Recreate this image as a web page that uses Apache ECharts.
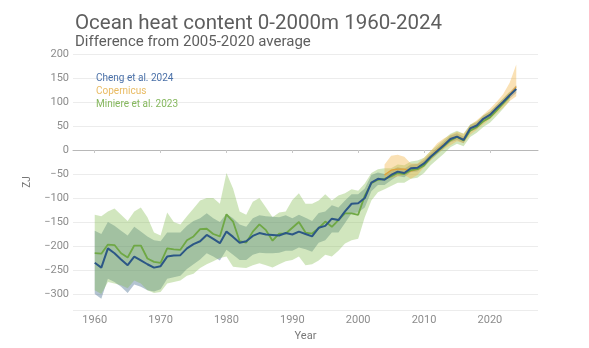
<!DOCTYPE html>
<html>
<head>
<meta charset="utf-8">
<script src="https://cdn.jsdelivr.net/npm/echarts@6/dist/echarts.min.js"></script>
<style>html,body{margin:0;padding:0;background:#fff}#c{width:589px;height:348px}</style>
</head>
<body>
<div id="c"></div>
<script>
const years = [];
for (let y = 1960; y <= 2024; y++) years.push(y);

const chengVals = [-235,-245,-205,-215,-228,-240,-222,-230,-238,-245,
  -242,-222,-220,-219,-205,-196,-190,-177,-185,-194,
  -170,-181,-193,-190,-179,-173,-176,-177,-178,-173,
  -176,-170,-175,-180,-162,-158,-143,-146,-128,-112,
  -111,-100,-68,-60,-62,-52,-45,-48,-38,-37,
  -28,-14,-2,10,23,28,21,45,51,65,
  73,87,100,114,127];
const chengLow = [-300,-310,-268,-275,-285,-298,-280,-285,-292,-295,
  -290,-268,-265,-262,-248,-238,-228,-215,-222,-230,
  -208,-218,-229,-229,-218,-214,-215,-215,-214,-210,
  -210,-203,-207,-212,-193,-188,-172,-172,-152,-132,
  -130,-120,-86,-73,-73,-63,-54,-57,-46,-45,
  -35,-21,-9,3,16,21,14,38,44,58,
  66,80,93,107,119];
const chengHigh = [-168,-175,-150,-158,-168,-178,-160,-170,-180,-188,
  -190,-172,-172,-172,-158,-148,-142,-132,-142,-150,
  -133,-142,-155,-160,-142,-136,-138,-139,-140,-136,
  -142,-135,-141,-148,-131,-128,-115,-120,-105,-92,
  -92,-80,-52,-47,-50,-42,-36,-39,-30,-29,
  -21,-7,5,17,30,35,28,52,58,72,
  80,94,107,121,135];

const miniereYears = years.slice(0, 64);
const miniereVals = [-215,-216,-197,-198,-215,-224,-199,-199,-226,-233,
  -235,-205,-207,-208,-188,-180,-165,-164,-175,-180,
  -134,-149,-190,-193,-170,-155,-167,-189,-174,-174,
  -162,-150,-172,-174,-163,-149,-160,-146,-132,-132,
  -135,-95,-69,-62,-60,-55,-48,-50,-42,-40,
  -32,-16,-4,8,20,27,20,40,48,60,
  68,82,97,112];
const miniereLow = [-292,-300,-275,-278,-282,-288,-272,-278,-292,-298,
  -296,-278,-275,-272,-262,-258,-246,-238,-232,-225,
  -222,-243,-245,-246,-240,-236,-240,-245,-238,-232,
  -229,-222,-240,-238,-230,-218,-222,-210,-195,-188,
  -185,-140,-105,-88,-82,-75,-68,-68,-60,-58,
  -48,-32,-20,-8,6,13,8,27,36,48,
  57,71,86,102];
const miniereHigh = [-135,-138,-128,-122,-135,-148,-128,-120,-140,-172,
  -178,-130,-150,-155,-138,-122,-105,-100,-100,-112,
  -48,-80,-128,-135,-108,-100,-120,-140,-130,-128,
  -104,-90,-112,-112,-105,-92,-105,-95,-90,-82,
  -85,-70,-48,-40,-38,-38,-30,-32,-24,-22,
  -16,-2,10,22,34,40,34,53,60,72,
  80,93,108,122];

const copYears = years.slice(44);
const copVals = [-52,-42,-40,-40,-44,-40,-28,-14,0,12,
  20,28,22,43,52,64,74,87,100,116,
  132];
const copLow = [-62,-58,-55,-52,-60,-52,-36,-22,-8,2,
  10,18,14,32,42,53,64,76,88,102,
  112];
const copHigh = [-30,-12,-10,-14,-28,-28,-16,-2,14,24,
  32,38,34,52,62,74,86,100,116,140,
  178];

const xTicks = [1960, 1970, 1980, 1990, 2000, 2010, 2020];
const yTicks = [-300, -250, -200, -150, -100, -50, 0, 50, 100, 150, 200];

function pairs(xs, ys) { return xs.map((x, i) => [x, ys[i]]); }
function bandSeries(name, xs, lo, hi, color, z) {
  return {
    type: 'custom', name: name, z: z, silent: true, clip: true,
    data: pairs(xs, lo).concat(pairs(xs, hi)),
    encode: { x: 0, y: 1 },
    renderItem: function (params, api) {
      if (params.dataIndex !== 0) return null;
      const pts = [];
      for (let i = 0; i < xs.length; i++) pts.push(api.coord([xs[i], hi[i]]));
      for (let i = xs.length - 1; i >= 0; i--) pts.push(api.coord([xs[i], lo[i]]));
      return { type: 'polygon', shape: { points: pts }, style: { fill: color, stroke: null } };
    }
  };
}

const FONT = 'Roboto';
const chart = echarts.init(document.getElementById('c'), null, { renderer: 'canvas' });
chart.setOption({
  animation: false,
  textStyle: { fontFamily: FONT },
  title: {
    text: 'Ocean heat content 0-2000m 1960-2024',
    subtext: 'Difference from 2005-2020 average',
    left: 70, top: 8, itemGap: 1,
    textStyle: { fontSize: 20.5, fontWeight: 'normal', color: '#5e5e5e', fontFamily: FONT },
    subtextStyle: { fontSize: 15, color: '#5e5e5e', fontFamily: FONT }
  },
  legend: {
    data: [
      { name: 'Cheng et al. 2024', textStyle: { color: '#4a70a8' } },
      { name: 'Copernicus', textStyle: { color: '#e9bb62' } },
      { name: 'Miniere et al. 2023', textStyle: { color: '#86b85e' } }
    ],
    orient: 'vertical', left: 86, top: 68, itemWidth: 0, itemHeight: 10, itemGap: 3,
    icon: 'rect', selectedMode: false,
    textStyle: { fontSize: 10, fontFamily: FONT }
  },
  grid: { left: 73, right: 51, top: 54, bottom: 38 },
  xAxis: {
    type: 'value', min: 1956.7, max: 2027.3, splitNumber: 7, minInterval: 10, maxInterval: 10,
    name: 'Year', nameLocation: 'middle', nameGap: 16,
    nameTextStyle: { color: '#777', fontSize: 11 },
    axisLine: { show: true, lineStyle: { color: '#b8b8b8', width: 1 } },
    axisTick: { show: true, length: 3, lineStyle: { color: '#c8c8c8' } },
    splitLine: { show: false },
    axisLabel: { color: '#8c8c8c', fontSize: 11, margin: 5, showMinLabel: false, showMaxLabel: false,
      formatter: v => (xTicks.indexOf(Math.round(v)) >= 0 && Math.abs(v - Math.round(v)) < 1e-6) ? String(Math.round(v)) : '' }
  },
  yAxis: {
    type: 'value', min: -333.3, max: 200, splitNumber: 10, minInterval: 50, maxInterval: 50,
    name: 'ZJ', nameLocation: 'middle', nameGap: 41, nameRotate: 90,
    nameTextStyle: { color: '#777', fontSize: 10 },
    axisLine: { show: false }, axisTick: { show: false },
    splitLine: { lineStyle: { color: '#ececec', width: 1 } },
    axisLabel: { color: '#8c8c8c', fontSize: 11, margin: 4, showMinLabel: false,
      formatter: v => (yTicks.indexOf(Math.round(v)) >= 0 && Math.abs(v - Math.round(v)) < 1e-6) ? String(Math.round(v)).replace('-', '\u2212') : '' }
  },
  series: [
    bandSeries('cheng', years, chengLow, chengHigh, 'rgba(65,105,140,0.40)', 1),
    bandSeries('miniere', miniereYears, miniereLow, miniereHigh, 'rgba(135,188,85,0.38)', 2),
    bandSeries('cop', copYears, copLow, copHigh, 'rgba(242,180,70,0.40)', 3),
    { type: 'line', name: 'Copernicus', data: pairs(copYears, copVals), symbol: 'none',
      lineStyle: { color: '#e2a33a', width: 1.3 }, itemStyle: { color: '#e2a33a' }, z: 4 },
    { type: 'line', name: 'Miniere et al. 2023', data: pairs(miniereYears, miniereVals), symbol: 'none',
      lineStyle: { color: '#6fa845', width: 1.8 }, itemStyle: { color: '#6fa845' }, z: 5 },
    { type: 'line', name: 'Cheng et al. 2024', data: pairs(years, chengVals), symbol: 'none',
      lineStyle: { color: '#2c5786', width: 2 }, itemStyle: { color: '#2c5786' }, z: 6 }
  ]
});
</script>
</body>
</html>
